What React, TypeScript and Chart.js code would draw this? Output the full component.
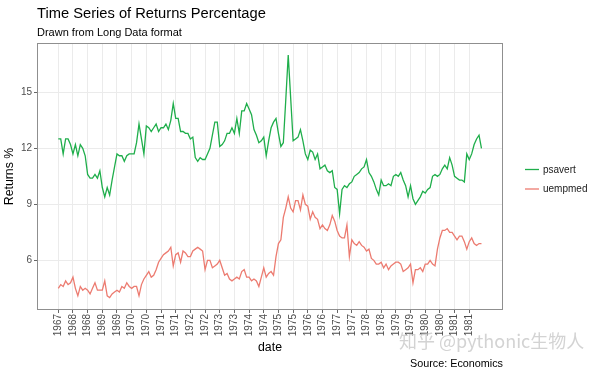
import React, { useEffect, useRef } from "react";
import { Chart, registerables } from "chart.js";

Chart.register(...registerables);

// ---- data (monthly, starting 1967-07) ----
const startMonth = "1967-07";

const psavert = [
  12.5, 12.5, 11.7, 12.5, 12.5, 12.2, 11.7, 12.2, 11.6, 12.2, 12.0, 11.6,
  10.6, 10.4, 10.4, 10.6, 10.4, 10.8, 9.9, 9.4, 9.9, 9.5, 10.3, 11.0,
  11.7, 11.6, 11.6, 11.3, 11.6, 11.7, 11.7, 11.7, 12.3, 13.3, 12.5, 11.7,
  13.2, 13.1, 12.9, 13.1, 13.3, 12.9, 13.1, 13.1, 13.3, 13.0, 13.5, 14.4,
  13.6, 13.6, 12.9, 12.9, 12.8, 12.8, 12.5, 12.6, 11.5, 11.3, 11.5, 11.4,
  11.4, 11.7, 12.0, 12.7, 13.4, 13.4, 12.1, 12.2, 12.4, 12.8, 12.8, 13.1,
  12.8, 13.6, 12.8, 14.0, 14.0, 14.4, 14.1, 13.8, 13.0, 12.7, 12.3, 12.4,
  12.6, 11.6, 12.4, 13.1, 13.4, 13.6, 12.8, 12.1, 12.3, 14.6, 17.0, 14.7,
  12.4, 12.5, 12.6, 13.0, 12.4, 11.7, 11.4, 11.9, 11.8, 11.4, 11.7, 10.9,
  11.0, 11.1, 10.8, 10.7, 10.8, 9.9, 9.8, 8.5, 9.8, 10.0, 9.9, 10.1,
  10.2, 10.5, 10.6, 10.7, 10.9, 11.0, 11.4, 10.7, 10.5, 10.2, 9.8, 9.5,
  10.3, 10.0, 10.0, 10.1, 10.0, 10.5, 10.6, 10.5, 10.7, 10.3, 10.0, 9.4,
  10.0, 9.3, 9.0, 9.2, 9.4, 9.7, 9.6, 9.8, 9.9, 10.5, 10.6, 10.5,
  10.6, 10.9, 11.1, 10.9, 11.5, 11.1, 10.5, 10.4, 10.3, 10.3, 10.2, 11.7,
  11.4, 11.7, 12.2, 12.5, 12.7, 12.0,
];

const uempmed = [
  4.5, 4.7, 4.6, 4.9, 4.7, 4.8, 5.1, 4.5, 4.1, 4.6, 4.4, 4.5,
  4.4, 4.2, 4.5, 4.8, 4.4, 4.4, 4.4, 4.9, 4.1, 4.0, 4.2, 4.3,
  4.4, 4.3, 4.6, 4.5, 4.8, 4.6, 4.5, 4.6, 4.6, 4.1, 4.7, 5.0,
  5.2, 5.4, 5.1, 5.2, 5.5, 5.9, 6.1, 6.3, 6.4, 6.5, 6.7, 5.7,
  6.3, 6.4, 5.9, 6.5, 6.4, 6.2, 6.2, 6.5, 6.6, 6.7, 6.6, 6.5,
  5.5, 6.0, 6.0, 5.6, 5.7, 5.8, 6.0, 5.6, 5.2, 5.3, 5.0, 4.9,
  5.0, 5.1, 5.0, 5.4, 5.5, 5.1, 5.1, 4.9, 5.0, 4.9, 4.6, 5.1,
  5.6, 5.1, 5.3, 5.4, 5.2, 6.2, 6.9, 7.1, 8.3, 8.8, 9.4, 8.8,
  8.6, 9.2, 9.2, 8.7, 9.5, 9.0, 8.9, 8.2, 8.6, 8.3, 8.2, 7.7,
  7.9, 7.7, 7.6, 7.9, 8.4, 8.1, 7.6, 7.3, 7.2, 7.2, 7.9, 6.2,
  7.1, 6.9, 6.8, 7.0, 6.8, 6.7, 6.5, 6.6, 6.1, 6.0, 5.8, 5.8,
  5.9, 5.6, 5.8, 5.5, 5.7, 5.8, 5.9, 5.9, 5.8, 5.4, 5.5, 5.6,
  5.8, 4.8, 5.5, 5.5, 5.6, 5.4, 5.8, 5.8, 6.0, 5.8, 5.7, 6.6,
  7.2, 7.6, 7.6, 7.7, 7.5, 7.5, 7.3, 7.1, 7.3, 7.3, 7.0, 6.6,
  7.0, 7.2, 6.9, 6.8, 6.9, 6.9,
];

const seriesNames = ["psavert", "uempmed"];
const seriesColors = ["#1fae4b", "#ec7b70"];

const tickMonths = [
  "1967-07", "1968-01", "1968-07", "1969-01", "1969-07", "1970-01", "1970-07",
  "1971-01", "1971-07", "1972-01", "1972-07", "1973-01", "1973-07", "1974-01",
  "1974-07", "1975-01", "1975-07", "1976-01", "1976-07", "1977-01", "1977-07",
  "1978-01", "1978-07", "1979-01", "1979-07", "1980-01", "1980-07", "1981-01",
  "1981-07",
];
const tickLabels = [
  "1967", "1968", "1968", "1969", "1969", "1970", "1970",
  "1971", "1971", "1972", "1972", "1973", "1973", "1974",
  "1974", "1975", "1975", "1976", "1976", "1977", "1977",
  "1978", "1978", "1979", "1979", "1980", "1980", "1981",
  "1981",
];
const yTicks = [6, 9, 12, 15];
const yRange = [3.34, 17.64];
const xRange = [-8.7, 181.8];

const titleText = "Time Series of Returns Percentage";
const subtitleText = "Drawn from Long Data format";
const captionText = "Source: Economics";
const xTitle = "date";
const yTitle = "Returns %";
const watermark = "知乎 @pythonic生物人";

const FONT = "'Liberation Sans', Arial, Helvetica, sans-serif";

function monthOffset(from: string, to: string): number {
  const [y1, m1] = from.split("-").map(Number);
  const [y2, m2] = to.split("-").map(Number);
  return (y2 - y1) * 12 + (m2 - m1);
}

const tickValues = tickMonths.map((m) => monthOffset(startMonth, m));

const decorPlugin = {
  id: "decor",
  afterDraw(chart: any) {
    const { ctx, chartArea: a } = chart;
    ctx.save();
    // panel border
    ctx.strokeStyle = "#8f8f8f";
    ctx.lineWidth = 1;
    ctx.strokeRect(a.left + 0.5, a.top + 0.5, a.right - a.left - 1, a.bottom - a.top - 1);

    // title / subtitle
    ctx.fillStyle = "#000";
    ctx.textAlign = "left";
    ctx.textBaseline = "alphabetic";
    ctx.font = `14.7px ${FONT}`;
    ctx.fillText(titleText, a.left, 17.5);
    ctx.font = `11px ${FONT}`;
    ctx.fillText(subtitleText, a.left, 35.5);

    // caption
    ctx.textAlign = "right";
    ctx.font = `10.8px ${FONT}`;
    ctx.fillText(captionText, a.right, 366.5);

    // legend
    const cy = (a.top + a.bottom) / 2;
    ctx.textAlign = "left";
    ctx.font = `10px ${FONT}`;
    seriesNames.forEach((name, k) => {
      const y = cy - 7 + k * 19.5;
      ctx.strokeStyle = seriesColors[k];
      ctx.lineWidth = 1.3;
      ctx.beginPath();
      ctx.moveTo(a.right + 22, y);
      ctx.lineTo(a.right + 36, y);
      ctx.stroke();
      ctx.fillStyle = "#1a1a1a";
      ctx.fillText(name, a.right + 40, y + 3);
    });

    // watermark
    ctx.font = `18px 'Noto Sans CJK SC', ${FONT}`;
    ctx.fillStyle = "rgba(200,200,200,0.8)";
    ctx.textAlign = "left";
    ctx.fillText(watermark, 399, 348);
    ctx.restore();
  },
};

export default function App() {
  const ref = useRef<HTMLCanvasElement | null>(null);

  useEffect(() => {
    if (!ref.current) return;
    const chart = new Chart(ref.current, {
      type: "line",
      data: {
        datasets: [
          {
            label: seriesNames[0],
            data: psavert.map((v, i) => ({ x: i, y: v })),
            borderColor: seriesColors[0],
            borderWidth: 1.3,
            pointRadius: 0,
            tension: 0,
            fill: false,
          },
          {
            label: seriesNames[1],
            data: uempmed.map((v, i) => ({ x: i, y: v })),
            borderColor: seriesColors[1],
            borderWidth: 1.3,
            pointRadius: 0,
            tension: 0,
            fill: false,
          },
        ],
      },
      options: {
        animation: false,
        responsive: false,
        devicePixelRatio: 1,
        layout: { padding: { top: 43, right: 97, left: 0, bottom: 0 } },
        plugins: {
          legend: { display: false },
          title: { display: false },
          tooltip: { enabled: false },
        },
        scales: {
          x: {
            type: "linear",
            min: xRange[0],
            max: xRange[1],
            afterBuildTicks: (scale: any) => {
              scale.ticks = tickValues.map((v) => ({ value: v }));
            },
            afterFit: (scale: any) => {
              scale.height = 61;
            },
            ticks: {
              autoSkip: false,
              minRotation: 90,
              maxRotation: 90,
              padding: 1,
              color: "#4d4d4d",
              font: { family: FONT, size: 10 },
              callback: (_v: any, index: number) => tickLabels[index],
            },
            grid: {
              color: "#ebebeb",
              lineWidth: 1,
              tickColor: "#666",
              tickLength: 3,
              drawTicks: true,
            },
            border: { display: false },
            title: {
              display: true,
              text: xTitle,
              color: "#000",
              font: { family: FONT, size: 12.3 },
              padding: { top: 0, bottom: 16 },
            },
          },
          y: {
            type: "linear",
            min: yRange[0],
            max: yRange[1],
            afterBuildTicks: (scale: any) => {
              scale.ticks = yTicks.map((v) => ({ value: v }));
            },
            afterFit: (scale: any) => {
              scale.width = 37;
            },
            ticks: {
              padding: 2,
              color: "#4d4d4d",
              font: { family: FONT, size: 10 },
              callback: (v: any) => String(v),
            },
            grid: {
              color: "#ebebeb",
              lineWidth: 1,
              tickColor: "#666",
              tickLength: 3,
              drawTicks: true,
            },
            border: { display: false },
            title: {
              display: true,
              text: yTitle,
              color: "#000",
              font: { family: FONT, size: 12.3 },
              padding: { top: 2.5, bottom: 0 },
            },
          },
        },
      },
      plugins: [decorPlugin],
    } as any);
    return () => chart.destroy();
  }, []);

  return (
    <div style={{ position: "fixed", left: 0, top: 0, width: 600, height: 371, background: "#fff" }}>
      <canvas ref={ref} width={600} height={371} style={{ display: "block" }} />
    </div>
  );
}
